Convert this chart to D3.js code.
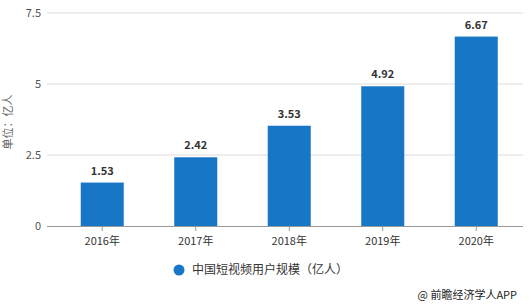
<!DOCTYPE html>
<html>
<head>
<meta charset="utf-8">
<script src="https://cdn.jsdelivr.net/npm/d3@7"></script>
<style>
  body { margin: 0; background: #fff; }
  text { font-family: "Microsoft YaHei", "Noto Sans CJK SC", sans-serif; }
</style>
</head>
<body>
<svg id="chart" width="531" height="307"></svg>
<script>
const years = ["2016年", "2017年", "2018年", "2019年", "2020年"];
const users = [1.53, 2.42, 3.53, 4.92, 6.67];
const yTicks = [0, 2.5, 5, 7.5];
const seriesName = "中国短视频用户规模（亿人）";

const svg = d3.select("#chart");

const x = d3.scaleBand()
  .domain(years)
  .range([55.5, 523])
  .paddingInner(0.54)
  .paddingOuter(0.27);

const y = d3.scaleLinear()
  .domain([0, 7.5])
  .range([226, 13]);

// grid lines
svg.selectAll(".grid")
  .data(yTicks.filter(d => d > 0))
  .enter()
  .append("line")
  .attr("x1", 47).attr("x2", 523)
  .attr("y1", d => y(d)).attr("y2", d => y(d))
  .attr("stroke", "#dcdcdc")
  .attr("stroke-width", 1);

// y labels
svg.selectAll(".ylab")
  .data(yTicks)
  .enter()
  .append("text")
  .attr("x", 41)
  .attr("y", d => y(d) + 4)
  .attr("text-anchor", "end")
  .attr("font-size", 11)
  .attr("fill", "#555")
  .text(d => d);

// y title
svg.append("text")
  .attr("transform", "translate(12,122) rotate(-90)")
  .attr("text-anchor", "middle")
  .attr("font-size", 11)
  .attr("fill", "#666")
  .text("单位：亿人");

// bars
svg.selectAll(".bar")
  .data(users)
  .enter()
  .append("rect")
  .attr("x", (d, i) => x(years[i]))
  .attr("width", x.bandwidth())
  .attr("y", d => y(d))
  .attr("height", d => y(0) - y(d))
  .attr("fill", "#1777c6");

// value labels
svg.selectAll(".val")
  .data(users)
  .enter()
  .append("text")
  .attr("x", (d, i) => x(years[i]) + x.bandwidth() / 2)
  .attr("y", d => y(d) - 8)
  .attr("text-anchor", "middle")
  .attr("font-size", 11)
  .attr("font-weight", "bold")
  .attr("fill", "#333")
  .text(d => d.toFixed(2));

// x axis
svg.append("line")
  .attr("x1", 47).attr("x2", 523)
  .attr("y1", 226.5).attr("y2", 226.5)
  .attr("stroke", "#999");

svg.selectAll(".tick")
  .data(years)
  .enter()
  .append("line")
  .attr("x1", d => x(d) + x.bandwidth() / 2)
  .attr("x2", d => x(d) + x.bandwidth() / 2)
  .attr("y1", 226.5).attr("y2", 231)
  .attr("stroke", "#999");

svg.selectAll(".xlab")
  .data(years)
  .enter()
  .append("text")
  .attr("x", d => x(d) + x.bandwidth() / 2)
  .attr("y", 245)
  .attr("text-anchor", "middle")
  .attr("font-size", 11)
  .attr("fill", "#333")
  .text(d => d);

// legend
svg.append("circle")
  .attr("cx", 179).attr("cy", 270).attr("r", 5.5)
  .attr("fill", "#1777c6");
svg.append("text")
  .attr("x", 192).attr("y", 274)
  .attr("font-size", 12)
  .attr("fill", "#333")
  .text(seriesName);

// source
svg.append("text")
  .attr("x", 517).attr("y", 299)
  .attr("text-anchor", "end")
  .attr("font-size", 11)
  .attr("fill", "#222")
  .text("@ 前瞻经济学人APP");
</script>
</body>
</html>
